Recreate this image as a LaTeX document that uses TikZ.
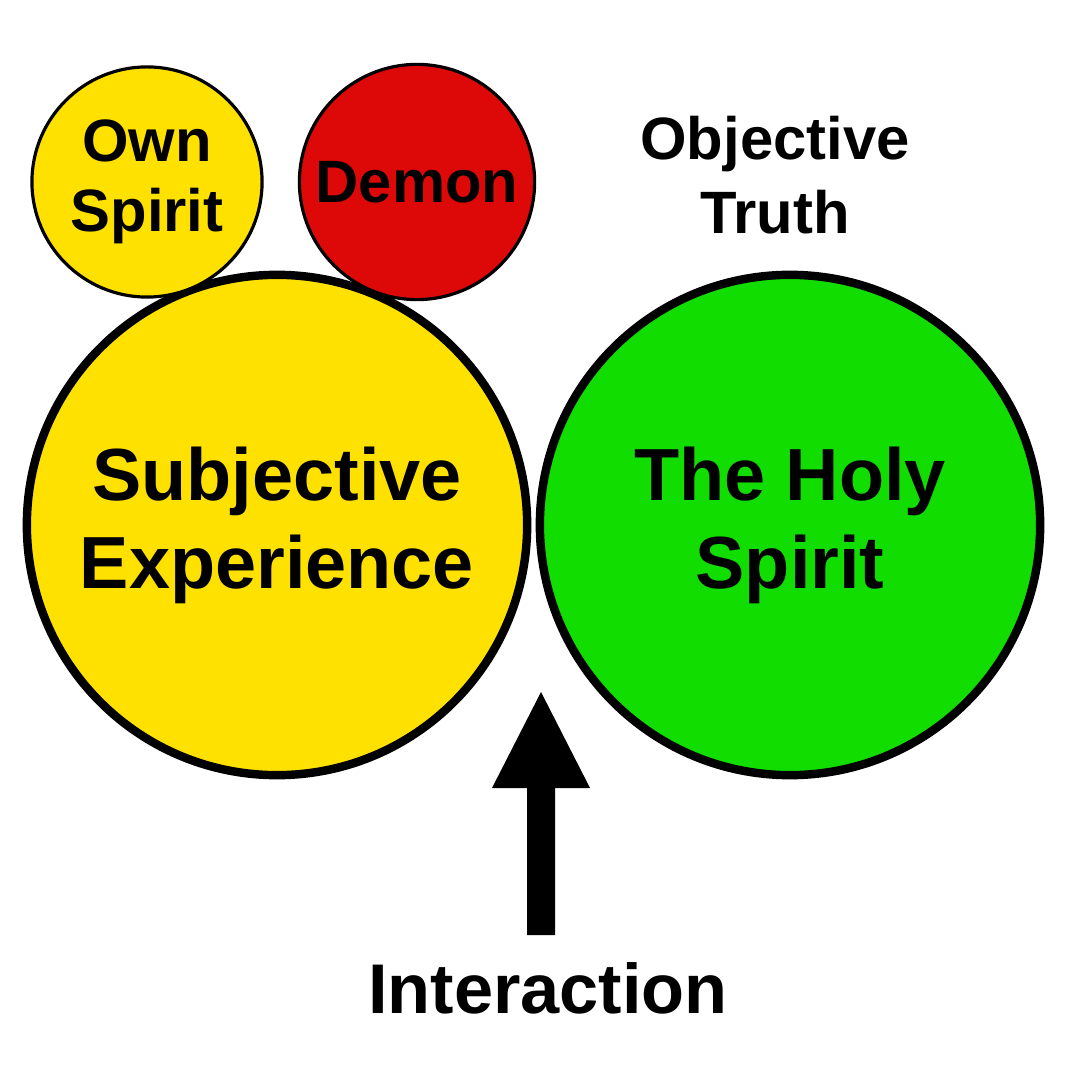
\documentclass[tikz,border=0pt]{standalone}
\usepackage{fontspec}
\setmainfont{Liberation Sans}
\usetikzlibrary{positioning}
\definecolor{spirityellow}{RGB}{255,225,0}
\definecolor{demonred}{RGB}{221,8,8}
\definecolor{holygreen}{RGB}{18,221,0}
\begin{document}
\begin{tikzpicture}[x=0.01cm,y=-0.01cm,
  big/.style = {circle, draw, line width=2.4pt, minimum size=5.0cm, align=center, font=\bfseries\fontsize{21}{25}\selectfont},
  small/.style = {circle, draw, line width=0.9pt, minimum size=2.28cm, align=center, font=\bfseries\fontsize{17}{20}\selectfont},
  label/.style = {align=center, font=\bfseries\fontsize{17}{21}\selectfont}]
\useasboundingbox (0,0) rectangle (1080,1080);
\node[big, fill=spirityellow] (subjective) at (277,525) {Subjective\\Experience};
\node[big, fill=holygreen] (holy) at (790,525) {The Holy\\Spirit};
\node[small, fill=spirityellow] (own) at (147,182) {Own\\Spirit};
\node[small, fill=demonred] (demon) at (417,182) {Demon};
\node[label] (truth) at (775,175) {Objective\\Truth};
\node[label, font=\bfseries\fontsize{20}{24}\selectfont] (interaction) at (548,988) {Interaction};
\coordinate (tip) at (541,692);
\fill (527,935) -- (527,788) -- (492,788) -- (tip) -- (590,788) -- (555,788) -- (555,935) -- cycle;
\end{tikzpicture}
\end{document}
